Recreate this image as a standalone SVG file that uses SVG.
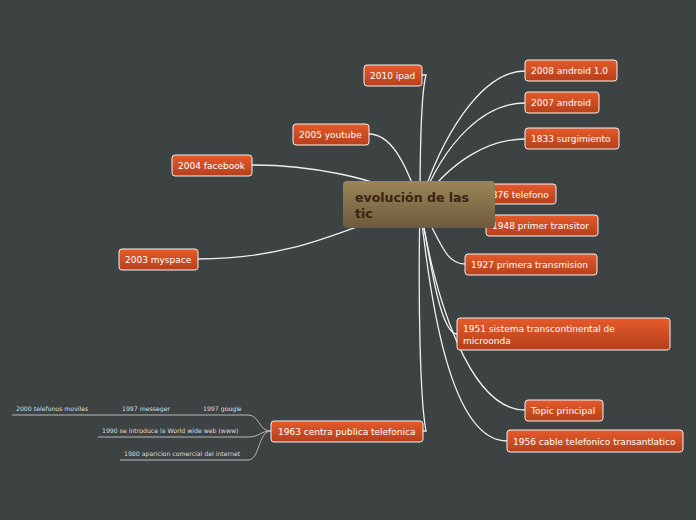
<svg xmlns="http://www.w3.org/2000/svg" width="696" height="520" viewBox="0 0 696 520">
<defs>
<linearGradient id="og" x1="0" y1="0" x2="0" y2="1"><stop offset="0" stop-color="#e65a2a"/><stop offset="1" stop-color="#b4401c"/></linearGradient>
<linearGradient id="cg" x1="0" y1="0" x2="0" y2="1"><stop offset="0" stop-color="#9c8658"/><stop offset="1" stop-color="#6c5a3c"/></linearGradient>
</defs>
<style>
.n rect{fill:url(#og);stroke:#f2f2f2;stroke-width:1}
.n text{font-family:"DejaVu Sans",sans-serif;font-size:9px;fill:#fff}
.c path{fill:none;stroke:#f0f0f0;stroke-width:1.3}
.s path{fill:none;stroke:#b8b8b8;stroke-width:1}
.s text{font-family:"DejaVu Sans",sans-serif;font-size:6.2px;fill:#ddd}
</style>
<rect width="696" height="520" fill="#3d4242"/>
<g class="c">
<path d="M420,205 C420,140 422,90 426,75 L422,75"/>
<path d="M420,205 C440,140 480,71 525,71"/>
<path d="M420,205 C445,140 485,103 525,103"/>
<path d="M420,205 C450,160 490,139 525,139"/>
<path d="M420,205 C450,195 470,194 487,194"/>
<path d="M420,205 C440,215 460,225 486,225"/>
<path d="M420,205 C440,240 445,264 465,264"/>
<path d="M420,205 C430,260 440,334 457,334"/>
<path d="M420,205 C435,300 470,410 525,410"/>
<path d="M420,205 C430,300 450,441 507,441"/>
<path d="M420,205 C418,300 420,400 426,431 L423,431"/>
<path d="M420,205 C405,160 390,134 369,134"/>
<path d="M420,205 C380,175 300,165 252,165"/>
<path d="M420,205 C350,225 300,259 198,259"/>
</g>
<g class="s">
<path d="M12,415 L248,415 C260,415 258,431 271,431"/>
<path d="M98,437 L248,437 C260,437 260,431 271,431"/>
<path d="M120,460 L248,460 C260,460 258,431 271,431"/>
<text x="16" y="411">2000 telefonos moviles</text>
<text x="122" y="411">1997 messeger</text>
<text x="203" y="411">1997 google</text>
<text x="102" y="433">1990 se introduce la World wide web (www)</text>
<text x="124" y="456">1980 aparicion comercial del internet</text>
</g>
<g id="n-ipad" class="n"><rect x="364" y="65" width="58" height="21" rx="3"/><text x="370" y="79">2010 ipad</text></g>
<g id="n-a10" class="n"><rect x="525" y="60" width="92" height="21" rx="3"/><text x="531" y="74">2008 android 1.0</text></g>
<g id="n-a" class="n"><rect x="525" y="92" width="74" height="21" rx="3"/><text x="531" y="106">2007 android</text></g>
<g id="n-1833" class="n"><rect x="525" y="128" width="94" height="21" rx="3"/><text x="531" y="142">1833 surgimiento</text></g>
<g id="n-1876" class="n"><rect x="480" y="184" width="76" height="20" rx="3"/><text x="486" y="198">1876 telefono</text></g>
<g id="n-1948" class="n"><rect x="486" y="215" width="112" height="21" rx="3"/><text x="492" y="229">1948 primer transitor</text></g>
<g id="n-1927" class="n"><rect x="465" y="254" width="132" height="21" rx="3"/><text x="471" y="268">1927 primera transmision</text></g>
<g id="n-1951" class="n"><rect x="457" y="318" width="213" height="32" rx="3"/><text x="463" y="332">1951 sistema transcontinental de</text><text x="463" y="344">microonda</text></g>
<g id="n-topic" class="n"><rect x="525" y="400" width="78" height="21" rx="3"/><text x="531" y="414">Topic principal</text></g>
<g id="n-1956" class="n"><rect x="507" y="430" width="176" height="22" rx="3"/><text x="513" y="445">1956 cable telefonico transantlatico</text></g>
<g id="n-1963" class="n"><rect x="271" y="421" width="152" height="21" rx="3"/><text x="278" y="435">1963 centra publica telefonica</text></g>
<g id="n-yt" class="n"><rect x="293" y="124" width="76" height="21" rx="3"/><text x="299" y="138">2005 youtube</text></g>
<g id="n-fb" class="n"><rect x="172" y="155" width="80" height="21" rx="3"/><text x="178" y="169">2004 facebook</text></g>
<g id="n-ms" class="n"><rect x="119" y="249" width="79" height="21" rx="3"/><text x="125" y="263">2003 myspace</text></g>
<g id="center"><rect x="343" y="181" width="152" height="47" rx="4" fill="url(#cg)"/>
<text font-family="DejaVu Sans,sans-serif" font-size="12.5" font-weight="bold" fill="#3a2414"><tspan x="355" y="202">evolución de las</tspan><tspan x="355" y="218">tic</tspan></text></g>
</svg>
